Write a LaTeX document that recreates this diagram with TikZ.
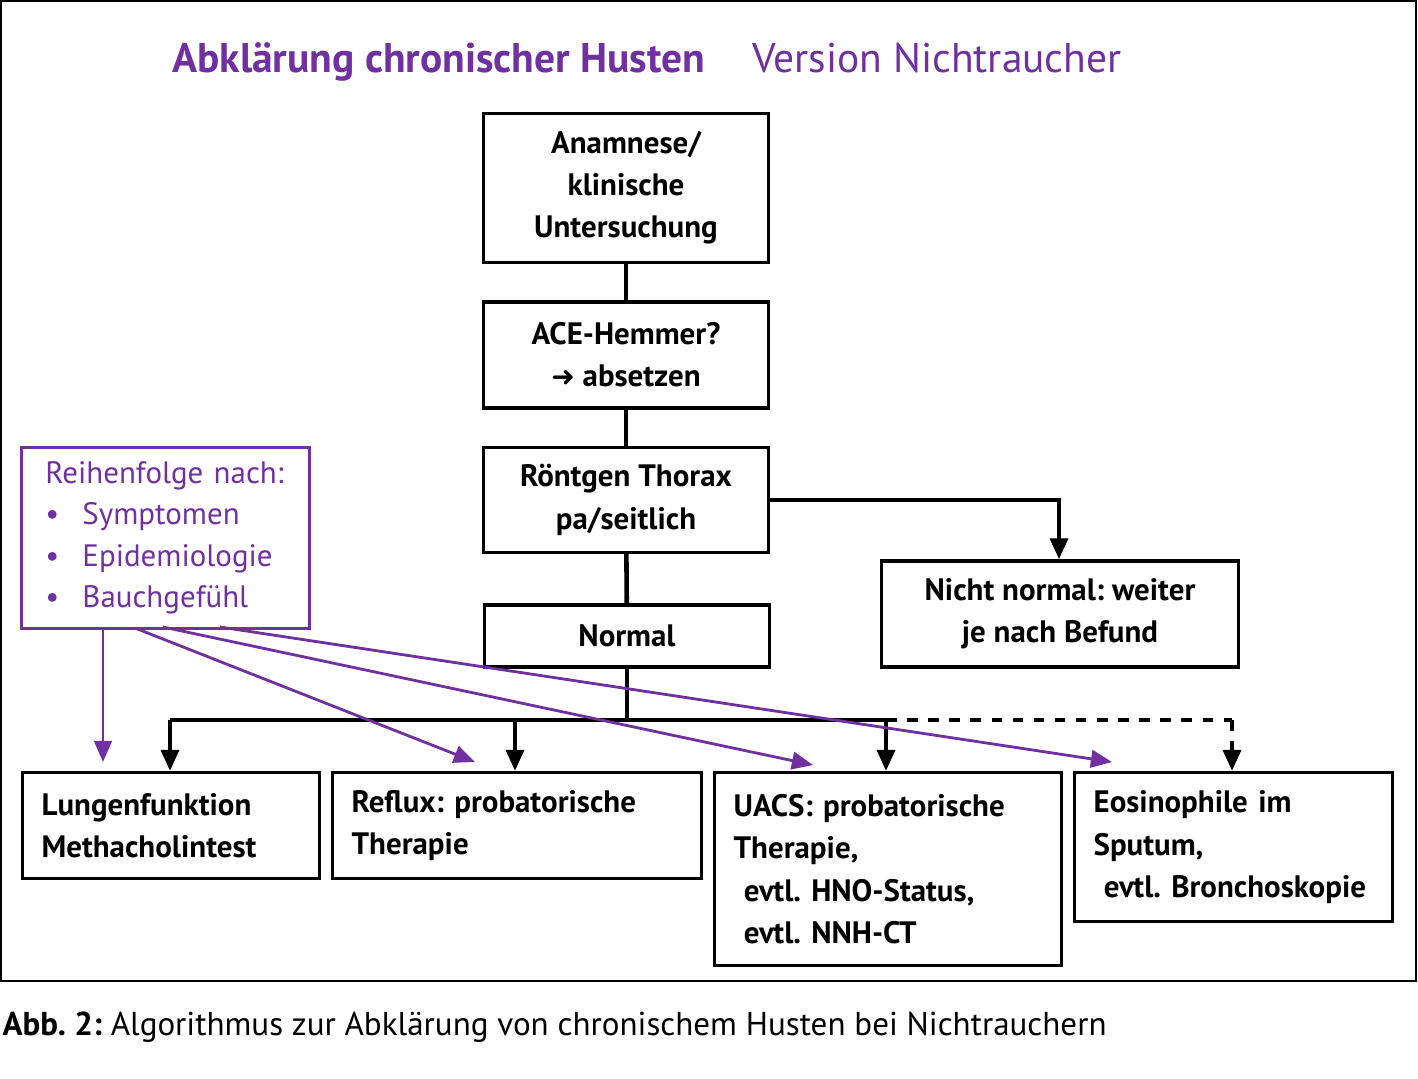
\documentclass[tikz,border=0pt]{standalone}
\usepackage{fontspec}
\setmainfont{PT Sans}
\usetikzlibrary{arrows.meta}
\frenchspacing
\definecolor{lila}{RGB}{112,48,160}
\tikzset{
  box/.style={draw, line width=0.9pt, font=\fontsize{8.8pt}{12pt}\selectfont\bfseries, align=center, inner sep=0pt},
  lbox/.style={box, align=left, text width=#1},
  flow/.style={line width=1.3pt, -{Triangle[length=6pt,width=5pt]}},
  hint/.style={lila, line width=0.8pt, -{Triangle[length=6pt,width=5pt]}},
}
\begin{document}
\begin{tikzpicture}[x=0.01cm, y=-0.01cm]
    \useasboundingbox (0,0) rectangle (1418,1078);
    % Frame
    \draw[line width=0.8pt] (1,1) rectangle (1416,981);

    % Title
    \node[anchor=base west, lila, font=\fontsize{11.8pt}{14pt}\selectfont\bfseries] (title) at (160,72) {Abklärung chronischer Husten};
    \node[anchor=base west, lila, font=\fontsize{11.8pt}{14pt}\selectfont] (vers) at (740,72) {Version Nichtraucher};

    % Main column
    \node[box, minimum width=2.85cm, minimum height=1.49cm] (anam) at (626,188) {Anamnese/\\klinische\\Untersuchung};
    \node[box, minimum width=2.85cm, minimum height=1.06cm] (ace) at (626,355) {ACE-Hemmer?\\{\fontspec{DejaVu Sans}\footnotesize\bfseries ➜} absetzen};
    \node[box, minimum width=2.85cm, minimum height=1.05cm] (rtg) at (626,500) {Röntgen Thorax\\pa/seitlich};
    \node[box, minimum width=2.85cm, minimum height=0.62cm] (norm) at (627,636) {Normal};
    \node[box, minimum width=3.56cm, minimum height=1.06cm] (nn) at (1060,614) {Nicht normal: weiter\\je nach Befund};

    % Hint box
    \node[draw=lila, line width=0.8pt, lila, anchor=north west, minimum width=2.88cm, minimum height=1.81cm,
          font=\fontsize{8.8pt}{11.8pt}\selectfont, align=left, text width=2.4cm, inner xsep=0.19cm, inner ysep=0.12cm] (hint) at (20,446)
      {Reihenfolge nach:\\
       \makebox[0.37cm][l]{\textbullet}Symptomen\\
       \makebox[0.37cm][l]{\textbullet}Epidemiologie\\
       \makebox[0.37cm][l]{\textbullet}Bauchgefühl};

    % Bottom row
    \node[lbox=2.59cm, anchor=north west, minimum width=2.97cm, minimum height=1.06cm, inner xsep=0.19cm] (lung) at (21,771) {Lungenfunktion\\Methacholintest};
    \node[lbox=3.31cm, anchor=north west, minimum width=3.69cm, minimum height=1.06cm, inner xsep=0.19cm] (refl) at (331,771) {Reflux: probatorische\\Therapie};
    \node[lbox=3.09cm, anchor=north west, minimum width=3.47cm, minimum height=1.93cm, inner xsep=0.19cm] (uacs) at (713,771) {UACS: probatorische\\Therapie,\\\ evtl. HNO-Status,\\\ evtl. NNH-CT};
    \node[lbox=2.80cm, anchor=north west, minimum width=3.18cm, minimum height=1.49cm, inner xsep=0.19cm] (eos) at (1073,771) {Eosinophile im\\Sputum,\\\ evtl. Bronchoskopie};

    % Flow
    \draw[line width=1.3pt] (anam) -- (ace);
    \draw[line width=1.3pt] (ace) -- (rtg);
    \draw[line width=1.3pt] (rtg) -- (norm);
    \draw[flow] (rtg.east) -- (1059,500) -- (nn.north -| 1059,0);
    \coordinate (bar) at (627,720);
    \draw[line width=1.3pt] (norm.south) -- (bar);
    \draw[line width=1.3pt] (170,720) -- (886,720);
    \draw[line width=1.3pt, dashed] (886,720) -- (1232,720);
    \draw[flow] (170,720) -- (170,771);
    \draw[flow] (515,720) -- (515,771);
    \draw[flow] (886,720) -- (886,771);
    \draw[flow, dashed] (1232,720) -- (1232,771);

    % Hints
    \draw[hint] (103,627) -- (103,762);
    \draw[hint] (135,628) -- (475,762);
    \draw[hint] (163,627) -- (813,765);
    \draw[hint] (220,627) -- (1112,762);

    % Caption
    \node[anchor=base west, font=\fontsize{9.4pt}{12pt}\selectfont, inner sep=0pt] (cap) at (2,1035) {\textbf{Abb. 2:} Algorithmus zur Abklärung von chronischem Husten bei Nichtrauchern};
\end{tikzpicture}
\end{document}
